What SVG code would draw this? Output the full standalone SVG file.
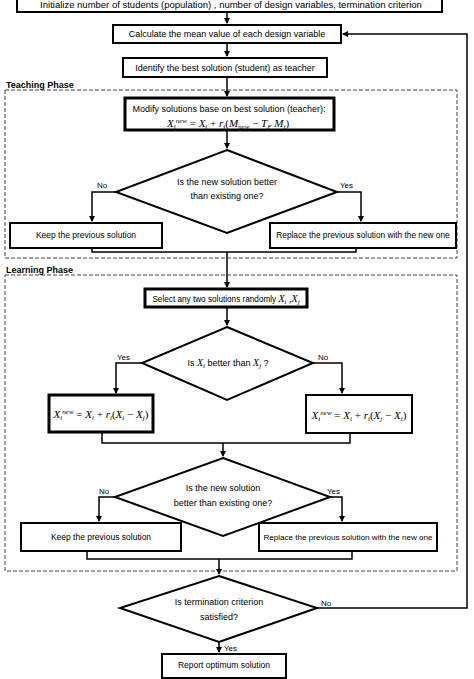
<svg xmlns="http://www.w3.org/2000/svg" width="474" height="679" viewBox="0 0 474 679">
<defs>
<marker id="ah" markerWidth="6" markerHeight="6" refX="5" refY="3" orient="auto" markerUnits="userSpaceOnUse">
<path d="M0,0 L6,3 L0,6 Z" fill="#000"/>
</marker>
<style>
.box{fill:#fff;stroke:#000;stroke-width:2}
.tbox{fill:#fff;stroke:#000;stroke-width:3}
.dia{fill:#fff;stroke:#000;stroke-width:2}
.phase{fill:none;stroke:#444;stroke-width:1;stroke-dasharray:4,2}
.con{fill:none;stroke:#000;stroke-width:1.5}
.t{font-family:"Liberation Sans",Arial,sans-serif;font-size:9px;fill:#000;text-anchor:middle}
.s{font-size:8.5px}
.lbl{font-family:"Liberation Sans",Arial,sans-serif;font-size:8px;fill:#000}
.ph{font-family:"Liberation Sans",Arial,sans-serif;font-size:9px;font-weight:bold;fill:#000}
.m{font-family:"Liberation Serif","Times New Roman",serif;font-size:11px;fill:#000;text-anchor:middle}
.i{font-style:italic}
.mi{font-family:"Liberation Serif","Times New Roman",serif;font-style:italic;font-size:10px}
.sub{font-size:7px}
</style>
</defs>
<rect width="474" height="679" fill="#fff"/>

<g id="phases">
<rect class="phase" x="5" y="90" width="452" height="168"/>
<text class="ph" x="6" y="88">Teaching Phase</text>
<rect class="phase" x="5" y="275" width="452" height="296"/>
<text class="ph" x="6" y="273">Learning Phase</text>
</g>

<g id="connectors">
<path class="con" d="M227,12 V23" marker-end="url(#ah)"/>
<path class="con" d="M227,43 V56" marker-end="url(#ah)"/>
<path class="con" d="M227,77 V96" marker-end="url(#ah)"/>
<path class="con" d="M227,130 V148" marker-end="url(#ah)"/>
<path class="con" d="M116,192 H92 V221" marker-end="url(#ah)"/>
<path class="con" d="M337,192 H361 V221" marker-end="url(#ah)"/>
<path class="con" d="M92,248 V252 H356 V248"/>
<path class="con" d="M227,252 V287" marker-end="url(#ah)"/>
<path class="con" d="M227,307 V325" marker-end="url(#ah)"/>
<path class="con" d="M142,363 H116 V393" marker-end="url(#ah)"/>
<path class="con" d="M313,363 H342 V393" marker-end="url(#ah)"/>
<path class="con" d="M102,432 V443 H350 V433"/>
<path class="con" d="M223,443 V456" marker-end="url(#ah)"/>
<path class="con" d="M115,497 H99 V521" marker-end="url(#ah)"/>
<path class="con" d="M330,497 H342 V521" marker-end="url(#ah)"/>
<path class="con" d="M87,551 V559 H352 V551"/>
<path class="con" d="M219,559 V574" marker-end="url(#ah)"/>
<path class="con" d="M317,608 H467 V34 H343" marker-end="url(#ah)"/>
<path class="con" d="M219,642 V652" marker-end="url(#ah)"/>
<text class="lbl" x="97" y="188">No</text>
<text class="lbl" x="340" y="188">Yes</text>
<text class="lbl" x="117" y="360">Yes</text>
<text class="lbl" x="318" y="360">No</text>
<text class="lbl" x="99" y="494">No</text>
<text class="lbl" x="327" y="494">Yes</text>
<text class="lbl" x="321" y="606">No</text>
<text class="lbl" x="224" y="651">Yes</text>
</g>

<g id="init">
<rect class="box" x="17" y="-12" width="425" height="24"/>
<text class="t" x="231" y="7.5" style="font-size:9.5px">Initialize number of students (population) , number of design variables, termination criterion</text>
</g>

<g id="mean">
<rect class="box" x="113" y="25" width="228" height="18"/>
<text class="t" x="227" y="37.2">Calculate the mean value of each design variable</text>
</g>

<g id="teacher">
<rect class="box" x="123" y="58" width="204" height="19"/>
<text class="t" x="225" y="70.8">Identify the best solution (student) as teacher</text>
</g>

<g id="modify">
<rect class="tbox" x="125" y="98" width="209" height="32"/>
<text class="t" x="229" y="112">Modify solutions base on best solution (teacher):</text>
<text class="m" x="228" y="127"><tspan class="i">X</tspan><tspan class="i sub" dy="2">i</tspan><tspan class="i sub" dy="-6">new</tspan><tspan dy="4"> = </tspan><tspan class="i">X</tspan><tspan class="i sub" dy="2">i</tspan><tspan dy="-2">   + </tspan><tspan class="i">r</tspan><tspan class="i sub" dy="2">i</tspan><tspan dy="-2">(</tspan><tspan class="i">M</tspan><tspan class="i sub" dy="2">new</tspan><tspan dy="-2"> − </tspan><tspan class="i">T</tspan><tspan class="i sub" dy="2">F</tspan><tspan class="i" dy="-2"> M</tspan><tspan class="i sub" dy="2">i</tspan><tspan dy="-2">)</tspan></text>
</g>

<g id="check1">
<polygon class="dia" points="227,150 337,192 227,233 116,192"/>
<text class="t" x="227" y="185">Is the new solution better</text>
<text class="t" x="227" y="198.5">than existing one?</text>
</g>

<g id="keep1">
<rect class="box" x="10" y="223" width="152" height="25"/>
<text class="t s" x="86" y="238">Keep the previous solution</text>
</g>

<g id="replace1">
<rect class="box" x="270" y="223" width="186" height="25"/>
<text class="t" x="363" y="238" style="font-size:8.3px">Replace the previous solution with the new one</text>
</g>

<g id="select">
<rect class="tbox" x="145" y="289" width="162" height="18"/>
<text class="t" x="226" y="301.5" style="font-size:8.2px"><tspan>Select any two solutions randomly </tspan><tspan class="mi">X</tspan><tspan class="mi sub" dy="2">i</tspan><tspan class="mi" font-style="normal" dy="-2"> ,</tspan><tspan class="mi">X</tspan><tspan class="mi sub" dy="2">j</tspan></text>
</g>

<g id="check2">
<polygon class="dia" points="227,327 313,363 227,400 142,363"/>
<text class="t" x="228" y="366"><tspan>Is </tspan><tspan class="mi">X</tspan><tspan class="mi sub" dy="2">i</tspan><tspan dy="-2"> better than  </tspan><tspan class="mi">X</tspan><tspan class="mi sub" dy="2">j</tspan><tspan dy="-2"> ?</tspan></text>
</g>

<g id="updateL">
<rect class="tbox" x="49" y="395" width="104" height="37"/>
<text class="m" x="101" y="418"><tspan class="i">X</tspan><tspan class="i sub" dy="2">i</tspan><tspan class="i sub" dy="-6">new</tspan><tspan dy="4"> = </tspan><tspan class="i">X</tspan><tspan class="i sub" dy="2">i</tspan><tspan dy="-2">   + </tspan><tspan class="i">r</tspan><tspan class="i sub" dy="2">i</tspan><tspan dy="-2">(</tspan><tspan class="i">X</tspan><tspan class="i sub" dy="2">i</tspan><tspan dy="-2"> − </tspan><tspan class="i">X</tspan><tspan class="i sub" dy="2">j</tspan><tspan dy="-2">)</tspan></text>
</g>

<g id="updateR">
<rect class="box" x="306" y="395" width="106" height="38"/>
<text class="m" x="359" y="419"><tspan class="i">X</tspan><tspan class="i sub" dy="2">i</tspan><tspan class="i sub" dy="-6">new</tspan><tspan dy="4"> = </tspan><tspan class="i">X</tspan><tspan class="i sub" dy="2">i</tspan><tspan dy="-2">   + </tspan><tspan class="i">r</tspan><tspan class="i sub" dy="2">i</tspan><tspan dy="-2">(</tspan><tspan class="i">X</tspan><tspan class="i sub" dy="2">j</tspan><tspan dy="-2"> − </tspan><tspan class="i">X</tspan><tspan class="i sub" dy="2">i</tspan><tspan dy="-2">)</tspan></text>
</g>

<g id="check3">
<polygon class="dia" points="223,458 330,497 223,536 115,497"/>
<text class="t" x="223" y="491">Is the new solution</text>
<text class="t" x="223" y="506">better than existing one?</text>
</g>

<g id="keep2">
<rect class="box" x="21" y="523" width="160" height="28"/>
<text class="t s" x="101" y="540">Keep the previous solution</text>
</g>

<g id="replace2">
<rect class="box" x="259" y="523" width="178" height="28"/>
<text class="t" x="348" y="540" style="font-size:8.1px">Replace the previous solution with the new one</text>
</g>

<g id="terminate">
<polygon class="dia" points="219,576 317,608 219,642 120,608"/>
<text class="t" x="219" y="605">Is termination criterion</text>
<text class="t" x="219" y="620">satisfied?</text>
</g>

<g id="report">
<rect class="box" x="162" y="654" width="124" height="24"/>
<text class="t s" x="224" y="668">Report optimum solution</text>
</g>
</svg>
